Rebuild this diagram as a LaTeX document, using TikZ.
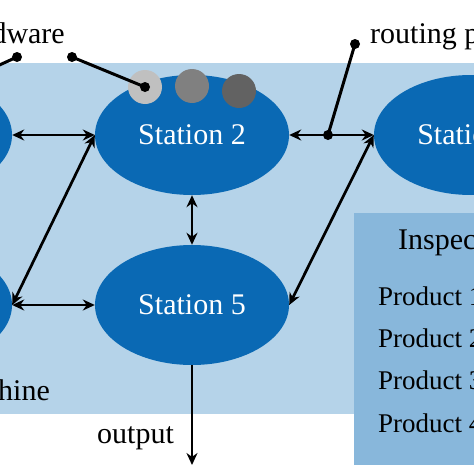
\documentclass[tikz,border=0pt]{standalone}
\usepackage{fontspec}
\setmainfont{Liberation Serif}
\usetikzlibrary{shapes.geometric,arrows.meta}
\definecolor{bgblue}{RGB}{181,211,233}
\definecolor{boxblue}{RGB}{136,183,219}
\definecolor{stblue}{RGB}{10,105,180}
\definecolor{grayA}{RGB}{192,192,192}
\definecolor{grayB}{RGB}{128,128,128}
\definecolor{grayC}{RGB}{98,98,98}
\begin{document}
\begin{tikzpicture}[x=1pt,y=-1pt,
  station/.style={ellipse,fill=stblue,minimum width=194pt,minimum height=120pt,inner sep=0pt,text=white,font=\fontsize{30}{36}\selectfont},
  tool/.style={circle,minimum size=34pt,inner sep=0pt},
  dot/.style={circle,fill=black,minimum size=10pt,inner sep=0pt},
  lbl/.style={font=\fontsize{30}{36}\selectfont,inner sep=0pt},
  prod/.style={font=\fontsize{27}{32}\selectfont,inner sep=0pt,anchor=base west},
  tip/.tip={Stealth[length=12pt,width=11pt]},
  link/.style={line width=2.7pt,tip-tip},
  flow/.style={line width=2.7pt,-tip},
  pointer/.style={line width=3pt}]
\useasboundingbox (0,0) rectangle (474,474);
\clip (0,0) rectangle (474,474);
% backgrounds
\fill[bgblue] (-10,63) rectangle (484,414);
\fill[boxblue] (354,213) rectangle (484,465);
% stations
\node[station] (s1) at (-85,135) {};
\node[station] (s2) at (192,135) {Station 2};
\node[station] (s3) at (471,135) {Station 3};
\node[station] (s4) at (-85,305) {};
\node[station] (s5) at (192,305) {Station 5};
% tools on station 2
\node[tool,fill=grayA] (c1) at (145,87) {};
\node[tool,fill=grayB] (c2) at (192,86) {};
\node[tool,fill=grayC] (c3) at (239,91) {};
% connectors
\draw[link] (s1) -- (s2);
\draw[link] (s2) -- (s3);
\draw[link] (s4) -- (s5);
\draw[link] (s4.east) -- (s2.west);
\draw[link] (s5.east) -- (s3.west);
\draw[link] (s2) -- (s5);
\coordinate (out) at (192,465);
\draw[flow] (s5) -- (out);
% hardware label
\node[lbl,anchor=base east] (hw) at (65,43) {hardware};
\node[dot] (hd1) at (17,57) {};
\node[dot] (hd2) at (72,57) {};
\coordinate (t1) at (-40,83);
\node[dot] (c1d) at (c1.center) {};
\draw[pointer] (hd1.center) -- (t1);
\draw[pointer] (hd2.center) -- (c1d.center);
% routing label
\node[lbl,anchor=base west] (rt) at (370,43) {routing path};
\node[dot] (rd) at (355,44) {};
\node[dot] (rj) at (328,135) {};
\draw[pointer] (rd.center) -- (rj.center);
% other labels
\node[lbl,anchor=base east] (mc) at (50,400) {machine};
\node[lbl,anchor=base west] (op) at (97,443) {output};
% inspection box
\node[lbl,anchor=base west] (ins) at (398,249) {Inspection};
\node[prod] (p1) at (378,305) {Product 1};
\node[prod] (p2) at (378,347) {Product 2};
\node[prod] (p3) at (378,389) {Product 3};
\node[prod] (p4) at (378,432) {Product 4};
\end{tikzpicture}
\end{document}
